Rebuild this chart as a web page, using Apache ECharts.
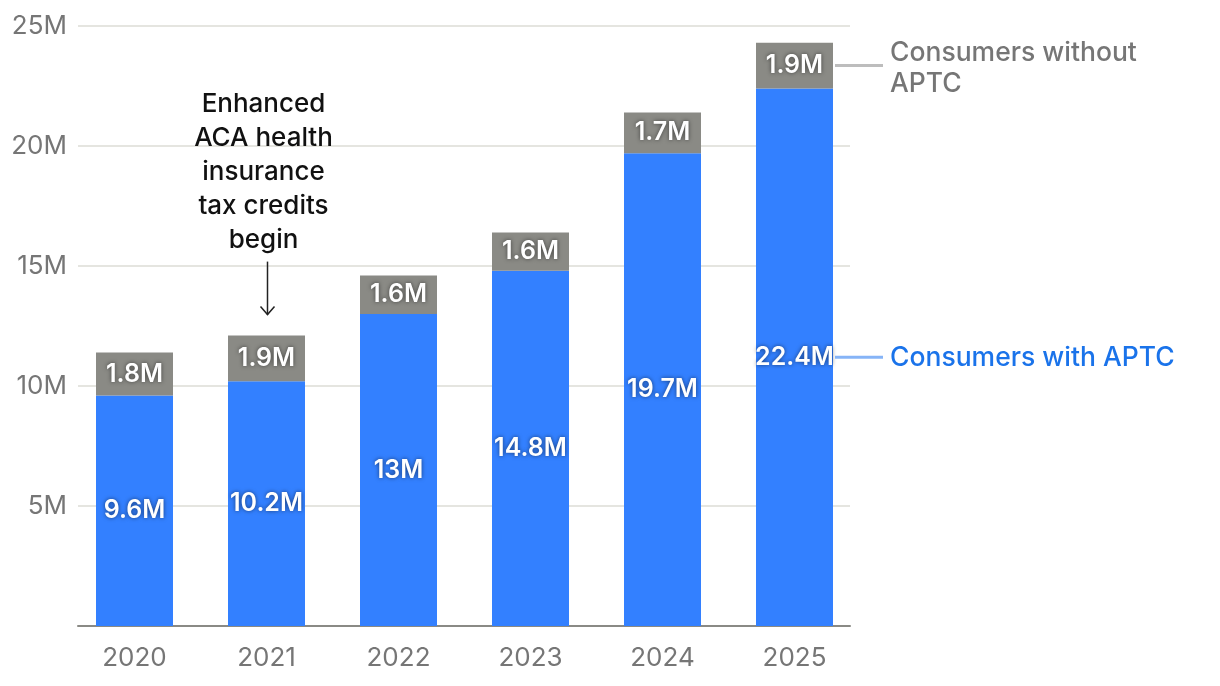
<!DOCTYPE html>
<html lang="en">
  <head>
    <meta charset="UTF-8" />
    <title>Marketplace consumers with and without APTC</title>
    <script src="https://cdn.jsdelivr.net/npm/echarts@6/dist/echarts.min.js"></script>
    <style>
      html, body { margin: 0; padding: 0; background: #fff; }
      #main { width: 1220px; height: 686px; }
    </style>
  </head>
  <body>
    <div id="main"></div>
    <script type="text/javascript">
      // data (millions)
      var years = ["2020", "2021", "2022", "2023", "2024", "2025"];
      var withAptc = [9.6, 10.2, 13, 14.8, 19.7, 22.4];
      var withoutAptc = [1.8, 1.9, 1.6, 1.6, 1.7, 1.9];
      var yTicks = [0, 5, 10, 15, 20, 25];
      var noteText = "Enhanced\nACA health\ninsurance\ntax credits\nbegin";
      var noteYear = "2021";

      var FONT = "Inter, 'Noto Sans', sans-serif";
      var BLUE = "#3380ff";
      var GREY = "#8a8a85";

      var chart = echarts.init(document.getElementById("main"));

      var barLabel = {
        show: true,
        position: "inside",
        color: "#fff",
        fontFamily: FONT,
        fontSize: 25,
        fontWeight: 600,
        textShadowColor: "rgba(0,0,0,0.55)",
        textShadowBlur: 4,
        formatter: function (p) { return p.value + "M"; }
      };

      var option = {
        animation: false,
        grid: [
          // axis frame (gridlines + baseline)
          { left: 78, right: 370, top: 26, bottom: 60 },
          // bars (a little wider than the frame)
          { left: 68.5, right: 359.5, top: 26, bottom: 60 }
        ],
        xAxis: [
          {
            type: "category", gridIndex: 0, data: years,
            axisLine: { show: true, lineStyle: { color: "#8a8a85", width: 2 } },
            axisTick: { show: false }, axisLabel: { show: false }, splitLine: { show: false }
          },
          {
            type: "category", gridIndex: 1, data: years,
            axisLine: { show: false }, axisTick: { show: false },
            axisLabel: { color: "#767676", fontFamily: FONT, fontSize: 26, margin: 19 }
          }
        ],
        yAxis: [
          {
            type: "value", gridIndex: 0, min: yTicks[0], max: yTicks[yTicks.length - 1], interval: 5,
            axisLine: { show: false }, axisTick: { show: false },
            axisLabel: {
              color: "#767676", fontFamily: FONT, fontSize: 26, margin: 11,
              formatter: function (v) { return v === 0 ? "" : v + "M"; }
            },
            splitLine: { lineStyle: { color: "#dcdcd6", width: 1.5 } }
          },
          {
            type: "value", gridIndex: 1, min: yTicks[0], max: yTicks[yTicks.length - 1], interval: 5,
            show: false, splitLine: { show: false }
          }
        ],
        series: [
          {
            name: "Consumers with APTC", type: "bar", stack: "total",
            xAxisIndex: 1, yAxisIndex: 1, barWidth: 77,
            itemStyle: { color: BLUE }, label: barLabel, data: withAptc
          },
          {
            name: "Consumers without APTC", type: "bar", stack: "total",
            xAxisIndex: 1, yAxisIndex: 1, barWidth: 77,
            itemStyle: { color: GREY }, label: barLabel, data: withoutAptc
          }
        ]
      };
      chart.setOption(option);

      // annotation + direct labels, placed from the data through the axes
      function px(cat, val) {
        return chart.convertToPixel({ xAxisIndex: 1, yAxisIndex: 1 }, [cat, val]);
      }
      var last = years.length - 1;
      var halfBar = 77 / 2;
      var pWith = px(years[last], withAptc[last] / 2);
      var pWithout = px(years[last], withAptc[last] + withoutAptc[last] / 2);
      var ni = years.indexOf(noteYear);
      var barTop = px(noteYear, withAptc[ni] + withoutAptc[ni]);
      var arrowEnd = barTop[1] - 21;
      var arrowStart = arrowEnd - 53;

      chart.setOption({
        graphic: [
          {
            type: "line", z: 10,
            shape: { x1: pWithout[0] + halfBar + 2, y1: pWithout[1], x2: pWithout[0] + halfBar + 50, y2: pWithout[1] },
            style: { stroke: "#bdbdbd", lineWidth: 3 }
          },
          {
            type: "text", z: 10, x: pWithout[0] + halfBar + 57, y: pWithout[1] - 28,
            style: {
              text: "Consumers without\nAPTC", fill: "#767676", font: "500 26.5px " + FONT,
              lineHeight: 31
            }
          },
          {
            type: "line", z: 10,
            shape: { x1: pWith[0] + halfBar + 2, y1: pWith[1], x2: pWith[0] + halfBar + 50, y2: pWith[1] },
            style: { stroke: "#86b4f7", lineWidth: 3 }
          },
          {
            type: "text", z: 10, x: pWith[0] + halfBar + 57, y: pWith[1] + 1,
            style: {
              text: "Consumers with APTC", fill: "#1a73ea", font: "500 26.5px " + FONT,
              verticalAlign: "middle"
            }
          },
          {
            type: "text", z: 10, x: barTop[0] - 3, y: arrowStart - 4,
            style: {
              text: noteText, fill: "#111", font: "500 26px " + FONT,
              align: "center", verticalAlign: "bottom", lineHeight: 34
            }
          },
          {
            type: "line", z: 10,
            shape: { x1: barTop[0] + 1, y1: arrowStart, x2: barTop[0] + 1, y2: arrowEnd },
            style: { stroke: "#222", lineWidth: 1.5 }
          },
          {
            type: "polyline", z: 10,
            shape: { points: [[barTop[0] - 6, arrowEnd - 8], [barTop[0] + 1, arrowEnd], [barTop[0] + 8, arrowEnd - 8]] },
            style: { stroke: "#222", lineWidth: 1.5, fill: null }
          }
        ]
      });

      window.onresize = function () { chart.resize(); };
    </script>
  </body>
</html>
